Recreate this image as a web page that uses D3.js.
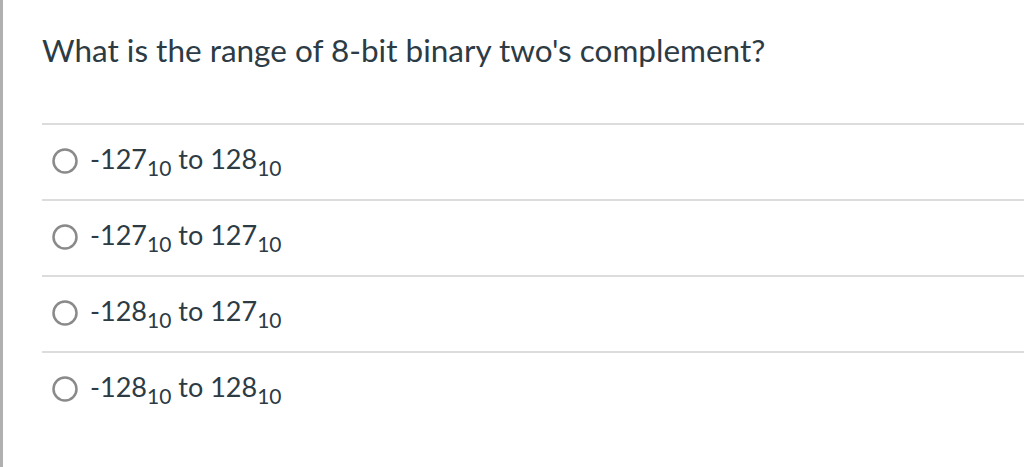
<!DOCTYPE html>
<html><head><meta charset="utf-8">
<script src="https://cdn.jsdelivr.net/npm/d3@7"></script>
<style>body{margin:0;background:#fff;} svg{display:block;font-family:Lato,sans-serif;}</style>
</head><body><div id="quiz"></div>
<script>
const question = "What is the range of 8-bit binary two's complement?";
const lowVals = ["-127", "-127", "-128", "-128"];
const highVals = ["128", "127", "127", "128"];
const base = "10";

const width = 1024, height = 467;
const svg = d3.select("#quiz").append("svg").attr("width", width).attr("height", height);

svg.append("rect").attr("x",0).attr("y",0).attr("width",3).attr("height",height).attr("fill","#b0b0b0");

svg.append("text").attr("x",42).attr("y",62).attr("font-size",31.5).attr("fill","#2d3b45").text(question);

const y = d3.scaleBand().domain(d3.range(lowVals.length)).range([124, 428]);

const g = svg.append("g").selectAll("g").data(lowVals).enter().append("g")
  .attr("transform", (d,i) => "translate(0," + y(i) + ")");

g.append("line").attr("x1",42).attr("x2",width).attr("y1",0).attr("y2",0)
  .attr("stroke","#dcdcdc").attr("stroke-width",2);

g.append("circle").attr("cx",65).attr("cy",37).attr("r",11.5)
  .attr("fill","#fff").attr("stroke","#8a8a8a").attr("stroke-width",2.5);

const t = g.append("text").attr("x",90).attr("y",45).attr("font-size",27).attr("fill","#2d3b45");
t.append("tspan").text(d => d);
t.append("tspan").attr("font-size",21).attr("dy",7).text(base);
t.append("tspan").attr("dy",-7).text(" to ");
t.append("tspan").text((d,i) => highVals[i]);
t.append("tspan").attr("font-size",21).attr("dy",7).text(base);
</script></body></html>
